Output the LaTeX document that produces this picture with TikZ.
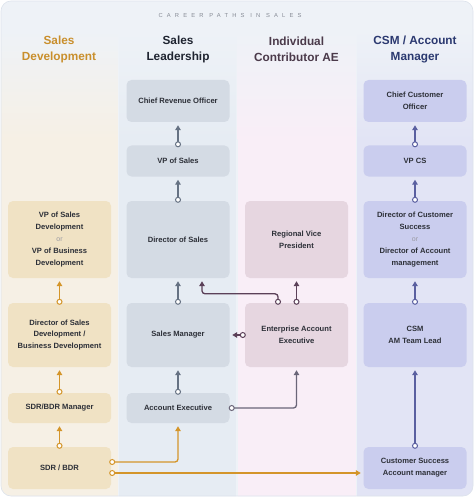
\documentclass[tikz,border=0pt]{standalone}
\usepackage{fontspec}
\setmainfont{Liberation Sans}
\usetikzlibrary{arrows.meta}
\definecolor{framebg}{HTML}{EEF2F7}
\definecolor{frameln}{HTML}{DDE3EC}
\definecolor{bgA}{HTML}{F6F0E5}
\definecolor{bgB}{HTML}{E6ECF3}
\definecolor{bgC}{HTML}{F9EEF7}
\definecolor{bgD}{HTML}{E2E4F5}
\definecolor{boxA}{HTML}{F0E2C4}
\definecolor{boxB}{HTML}{D4DBE4}
\definecolor{boxC}{HTML}{E6D6E0}
\definecolor{boxD}{HTML}{CACDEE}
\definecolor{hdA}{HTML}{C98F2C}
\definecolor{hdB}{HTML}{1F2430}
\definecolor{hdC}{HTML}{4B3A4A}
\definecolor{hdD}{HTML}{2B3970}
\definecolor{lnA}{HTML}{D4952A}
\definecolor{lnB}{HTML}{667283}
\definecolor{lnC}{HTML}{5B4058}
\definecolor{lnD}{HTML}{5A5FA0}
\definecolor{lnE}{HTML}{6A6578}
\definecolor{boxtext}{HTML}{2D3038}
\definecolor{ortext}{HTML}{9A9AA2}
\definecolor{titletext}{HTML}{868B95}
\newcommand\ortxt{{\mdseries\color{ortext}\fontsize{7}{11.8}\selectfont or}}
\begin{document}
\begin{tikzpicture}[x=1pt,y=-1pt,
  box/.style={rounded corners=5pt, minimum width=103pt, inner sep=0pt, align=center,
    text=boxtext, font=\fontsize{7.6}{11.8}\selectfont\bfseries},
  hdr/.style={align=center, font=\fontsize{11.8}{16}\selectfont\bfseries},
  tipc/.style={-{Triangle[length=5pt,width=5.5pt]}, line width=1.3pt, rounded corners=3pt},
  dot/.style={circle, draw, fill=white, line width=1pt, minimum size=5pt, inner sep=0pt}]
\useasboundingbox (0,0) rectangle (474,497);
\begin{scope}
\clip[rounded corners=10pt] (1,1) rectangle (473,496);
\fill[framebg] (0,0) rectangle (474,497);
\shade[top color=framebg, bottom color=bgA] (0,30) rectangle (117.5,140);
\fill[bgA] (0,139.5) rectangle (117.5,497);
\shade[top color=framebg, bottom color=bgB] (119,30) rectangle (236,140);
\fill[bgB] (119,139.5) rectangle (236,497);
\shade[top color=framebg, bottom color=bgC] (237.5,30) rectangle (355.5,140);
\fill[bgC] (237.5,139.5) rectangle (355.5,497);
\shade[top color=framebg, bottom color=bgD] (357,30) rectangle (474,140);
\fill[bgD] (357,139.5) rectangle (474,497);
\end{scope}
\draw[frameln, line width=0.6pt, rounded corners=10pt] (1,1) rectangle (473,496);

\node[text=titletext, font=\fontsize{5.8}{7}\selectfont\addfontfeature{LetterSpace=72}] (title) at (230,16) {CAREER PATHS IN SALES};

\node[hdr, text=hdA] (hA) at (59,49) {Sales\\Development};
\node[hdr, text=hdB] (hB) at (178,49) {Sales\\Leadership};
\node[hdr, text=hdC] (hC) at (296.5,49) {Individual\\Contributor AE};
\node[hdr, text=hdD] (hD) at (415,49) {CSM / Account\\Manager};

% column A
\node[box, fill=boxA, minimum height=77pt] (vpsd) at (59.5,239.5) {VP of Sales\\Development\\\ortxt\\VP of Business\\Development};
\node[box, fill=boxA, minimum height=64pt] (dsd) at (59.5,335) {Director of Sales\\Development /\\Business Development};
\node[box, fill=boxA, minimum height=30pt] (sdrm) at (59.5,408) {SDR/BDR Manager};
\node[box, fill=boxA, minimum height=42pt] (sdr) at (59.5,468) {SDR / BDR};
% column B
\node[box, fill=boxB, minimum height=42pt] (cro) at (178,101) {Chief Revenue Officer};
\node[box, fill=boxB, minimum height=31pt] (vps) at (178,161) {VP of Sales};
\node[box, fill=boxB, minimum height=77pt] (dos) at (178,239.5) {Director of Sales};
\node[box, fill=boxB, minimum height=64pt] (sm) at (178,335) {Sales Manager};
\node[box, fill=boxB, minimum height=30pt] (ae) at (178,408) {Account Executive};
% column C
\node[box, fill=boxC, minimum height=77pt] (rvp) at (296.5,239.5) {Regional Vice\\President};
\node[box, fill=boxC, minimum height=64pt] (eae) at (296.5,335) {Enterprise Account\\Executive};
% column D
\node[box, fill=boxD, minimum height=42pt] (cco) at (415,101) {Chief Customer\\Officer};
\node[box, fill=boxD, minimum height=31pt] (vpcs) at (415,161) {VP CS};
\node[box, fill=boxD, minimum height=77pt] (dcs) at (415,239.5) {Director of Customer\\Success\\\ortxt\\Director of Account\\management};
\node[box, fill=boxD, minimum height=64pt] (csm) at (415,335) {CSM\\AM Team Lead};
\node[box, fill=boxD, minimum height=42pt] (csam) at (415,468) {Customer Success\\Account manager};

\newcommand\uplink[3]{%
  \draw[tipc,#1] ([yshift=1pt]#2.north) -- ([yshift=-3pt]#3.south);
  \node[dot,draw=#1] at ([yshift=1pt]#2.north) {};}

\uplink{lnA}{sdr}{sdrm}
\uplink{lnA}{sdrm}{dsd}
\uplink{lnA}{dsd}{vpsd}
\uplink{lnB}{ae}{sm}
\uplink{lnB}{sm}{dos}
\uplink{lnB}{dos}{vps}
\uplink{lnB}{vps}{cro}
\uplink{lnC}{eae}{rvp}
\uplink{lnD}{csam}{csm}
\uplink{lnD}{csm}{dcs}
\uplink{lnD}{dcs}{vpcs}
\uplink{lnD}{vpcs}{cco}

% EAE -> Director of Sales
\coordinate (eaeL) at ([xshift=-18.5pt,yshift=1pt]eae.north);
\draw[tipc,lnC] (eaeL) -- ++(0,-8) -| ([xshift=24pt,yshift=-3pt]dos.south);
\node[dot,draw=lnC] at (eaeL) {};
% EAE -> Sales Manager
\draw[tipc,lnC] ([xshift=-2pt]eae.west) -- ([xshift=2.5pt]sm.east);
\node[dot,draw=lnC] at ([xshift=-2pt]eae.west) {};
% AE -> EAE
\draw[tipc,lnE] ([xshift=2pt]ae.east) -| ([yshift=-3pt]eae.south);
\node[dot,draw=lnE] at ([xshift=2pt]ae.east) {};
% SDR -> AE
\coordinate (sdrA) at ([xshift=1pt,yshift=6pt]sdr.east);
\draw[tipc,lnA] (sdrA) -| ([yshift=-3pt]ae.south);
\node[dot,draw=lnA] at (sdrA) {};
% SDR -> CS AM
\coordinate (sdrB) at ([xshift=1pt,yshift=-5pt]sdr.east);
\draw[tipc,lnA] (sdrB) -- ([xshift=-2.5pt]sdrB -| csam.west);
\node[dot,draw=lnA] at (sdrB) {};
\end{tikzpicture}
\end{document}
